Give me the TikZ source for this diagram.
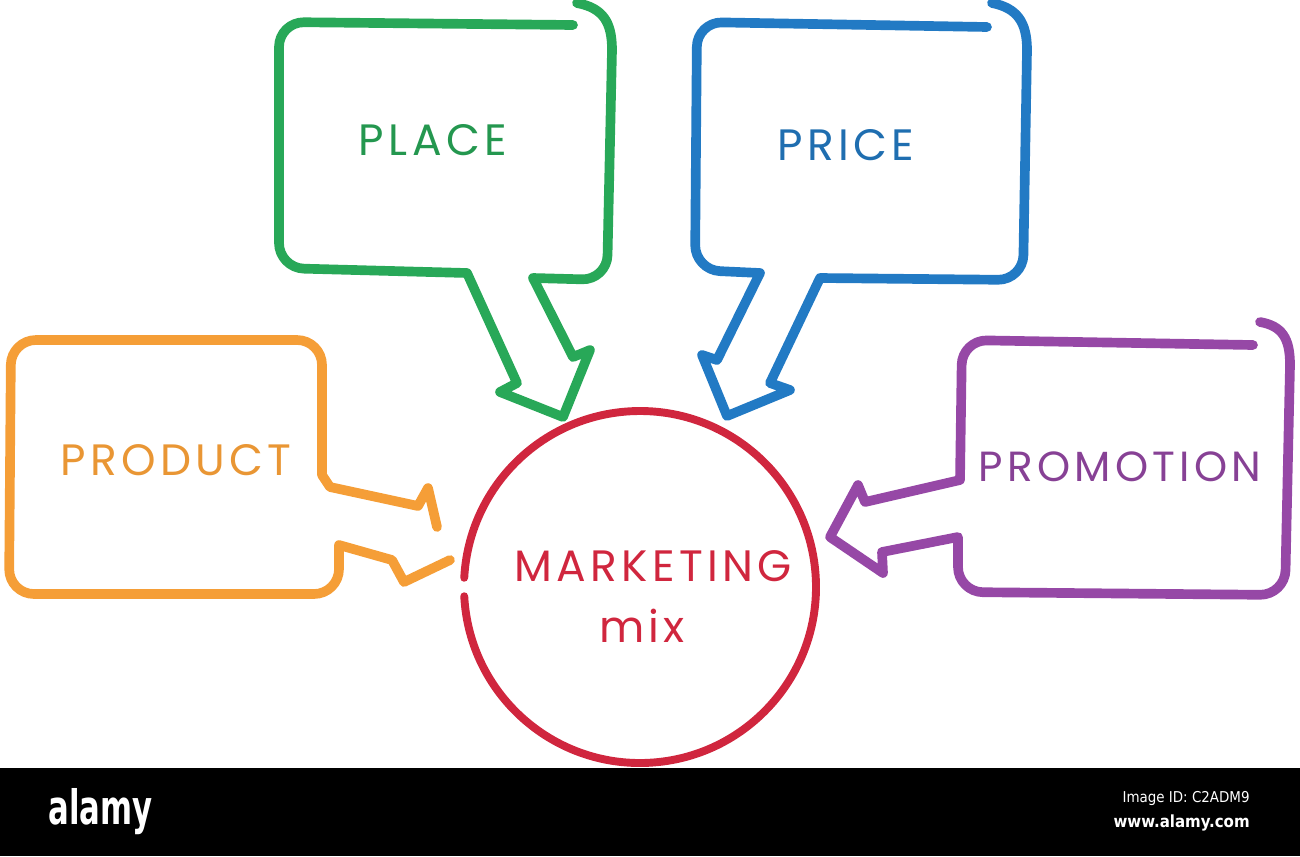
\documentclass[tikz,border=0pt]{standalone}
\usepackage{fontspec}
\newfontfamily\handfont{Poppins}[LetterSpace=10]
\newfontfamily\markfont{DejaVu Sans Condensed}
\definecolor{placecol}{RGB}{40,168,88}
\definecolor{pricecol}{RGB}{34,122,196}
\definecolor{productcol}{RGB}{245,158,55}
\definecolor{promocol}{RGB}{150,72,166}
\definecolor{mixcol}{RGB}{208,38,62}
\begin{document}
\begin{tikzpicture}[x=0.02cm,y=-0.02cm,
    brush/.style={line width=5.5pt,line cap=round,line join=round},
    word/.style={inner sep=0pt,font=\handfont\fontsize{25}{25}\selectfont}]
                \useasboundingbox (0,0) rectangle (1300,856);
                %% place
                \draw[brush,placecol] (577,3) .. controls (603,8) and (612,22) .. (612,50)
                    [rounded corners=0.5cm] -- (607,280) [sharp corners] -- (533,278)
                    -- (573,357) -- (590,350) -- (563,417) -- (500,392) -- (517,383) -- (467,273)
                    [rounded corners=0.5cm] -- (279,268) -- (279,22) -- (573,25);
                \node[word,placecol!90!black] (place) at (433,140) {PLACE};
                %% price
                \draw[brush,pricecol] (992,3) .. controls (1017,8) and (1027,22) .. (1027,50)
                    [rounded corners=0.5cm] -- (1023,280) [sharp corners] -- (820,278)
                    -- (770,383) -- (790,390) -- (727,416) -- (702,355) -- (717,360) -- (760,273)
                    [rounded corners=0.5cm] -- (695,270) -- (697,22) -- (987,27);
                \node[word,pricecol!90!black] (price) at (846,145) {PRICE};
                %% product
                \draw[brush,productcol] (437,527) -- (428,488) -- (418,506) -- (330,487) -- (322,475)
                    [rounded corners=0.5cm] -- (322,340) -- (11,340) -- (9,594) -- (339,594)
                    [sharp corners] -- (339,545) -- (392,560) -- (404,582) -- (450,560);
                \node[word,productcol!95!black] (product) at (176,460) {PRODUCT};
                %% promotion
                \draw[brush,promocol] (1260,322) .. controls (1282,326) and (1290,338) .. (1290,365)
                    [rounded corners=0.5cm] -- (1285,595) -- (958,592)
                    [sharp corners] -- (958,537) -- (882,552) -- (883,573) -- (830,537) -- (858,485) -- (865,502) -- (960,480)
                    [rounded corners=0.5cm] -- (962,340) -- (1253,345);
                \node[word,promocol!90!black,font=\handfont\fontsize{24}{24}\selectfont] (promotion) at (1120,467) {PROMOTION};
                %% marketing mix
                \coordinate (mixc) at (640,587);
                \draw[line width=4.5pt,line cap=round,mixcol] (mixc) ++(177:176) arc[start angle=177,end angle=-177,radius=176];
                \node[word,mixcol] (marketing) at (653,566) {MARKETING};
                \node[word,mixcol] (mixword) at (642,626) {mix};
                %% watermark bar
                \fill[black] (0,768) rectangle (1300,856);
                \node[anchor=west,inner sep=0pt,white,font=\markfont\bfseries\fontsize{27}{27}\selectfont] (alamy) at (48,812) {\scalebox{0.72}[1]{alamy}};
                \node[anchor=east,inner sep=0pt,white,font=\markfont\fontsize{8.5}{9}\selectfont] (imageid) at (1250,798) {Image ID: C2ADM9};
                \node[anchor=east,inner sep=0pt,white,font=\markfont\bfseries\fontsize{9.5}{10}\selectfont] (site) at (1250,823) {www.alamy.com};
            \end{tikzpicture}
\end{document}
